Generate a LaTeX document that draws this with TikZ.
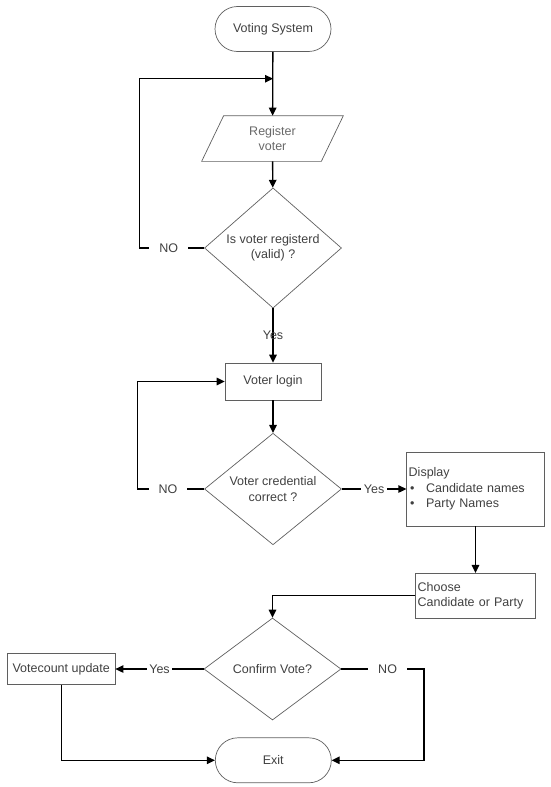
\documentclass[tikz,border=0pt]{standalone}
\usepackage{fontspec}
\setmainfont{Liberation Sans}
\usetikzlibrary{shapes.geometric,shapes.misc,arrows.meta}

\definecolor{txtgray}{RGB}{64,64,64}
\definecolor{regtext}{RGB}{105,105,105}
\definecolor{edgegray}{RGB}{95,95,95}

\tikzset{
  shp/.style={draw=edgegray, line width=0.7pt, text=txtgray,
    font=\fontsize{12.5}{15.5}\selectfont, inner sep=2pt},
  term/.style={shp, rounded rectangle, minimum width=120pt, minimum height=45pt},
  proc/.style={shp, rectangle},
  decide/.style={shp, diamond, minimum width=137pt, minimum height=102pt,
    align=center, inner sep=0pt},
  io/.style={shp, draw=none, rectangle, minimum width=119pt, minimum height=45pt,
    align=center, text=regtext},
  flow/.style={line width=1.3pt, -{Triangle[length=8pt,width=7.5pt]}},
  lbl/.style={fill=white, text=txtgray, font=\fontsize{12.5}{15.5}\selectfont,
    inner ysep=1pt},
}

\begin{document}
\begin{tikzpicture}[x=1pt, y=-1pt]
            \useasboundingbox (0,0) rectangle (550,787);

            %Nodes
            \node[term] at (273,29)    (start)  {Voting System};
            \node[io]   at (272.5,138.5) (reg)  {Register\\voter};
            \node[decide] at (273,248) (d1)     {Is voter registerd\\(valid) ?};
            \node[proc, minimum width=96pt, minimum height=37pt]
                        at (273,381.5) (login)  {Voter login};
            \node[decide] at (273,489) (d2)     {Voter credential\\correct ?};
            \node[proc, minimum width=137.6pt, minimum height=73.7pt,
                  text width=133.6pt, align=left]
                        at (475.5,489) (disp)
                        {Display\\\hspace{1.5pt}\textbullet\hspace{11.5pt}Candidate names\\\hspace{1.5pt}\textbullet\hspace{11.5pt}Party Names};
            \node[proc, minimum width=119.6pt, minimum height=45pt,
                  text width=115.6pt, align=left]
                        at (475.5,595.8) (choose) {Choose\\Candidate or Party};
            \node[decide] at (272.5,669) (d3)   {Confirm Vote?};
            \node[proc, minimum width=107.7pt, minimum height=30.7pt]
                        at (61.2,669)  (vote)   {Votecount update};
            \node[term] at (273.3,760.3) (exit) {Exit};
            \coordinate (j1) at (273,78.7);

            %Parallelogram outline of the input node
            \draw[edgegray, line width=0.7pt]
              ([xshift=-11pt]reg.south west) -- ([xshift=11pt]reg.north west)
              -- ([xshift=11pt]reg.north east) -- ([xshift=-11pt]reg.south east) -- cycle;

            %Lines
            \draw[flow] (start) -- (reg);
            \draw[flow] (d1.west) -- node[lbl, pos=0.55, inner xsep=10pt] {NO} ++(-64.5,0) |- (j1);
            \draw[flow] (reg) -- (d1);
            \draw[flow] (d1) -- node[text=txtgray, font=\fontsize{12.5}{15.5}\selectfont] {Yes} (login);
            \draw[flow] (login) -- (d2);
            \draw[flow] (d2.west) -- node[lbl, pos=0.54, inner xsep=10pt] {NO} ++(-67,0) |- (login.west);
            \draw[flow] (d2.east) -- node[lbl, inner xsep=2.5pt] {Yes} (disp.west);
            \draw[flow] (disp) -- (choose);
            \draw[flow] (choose.west) -| (d3.north);
            \draw[flow] (d3.west) -- node[lbl, inner xsep=2pt] {Yes} (vote.east);
            \draw[flow] (d3.east) -- node[lbl, pos=0.56, inner xsep=10pt] {NO} ++(82.6,0) |- (exit.east);
            \draw[flow] (vote.south) |- (exit.west);
        \end{tikzpicture}
\end{document}
